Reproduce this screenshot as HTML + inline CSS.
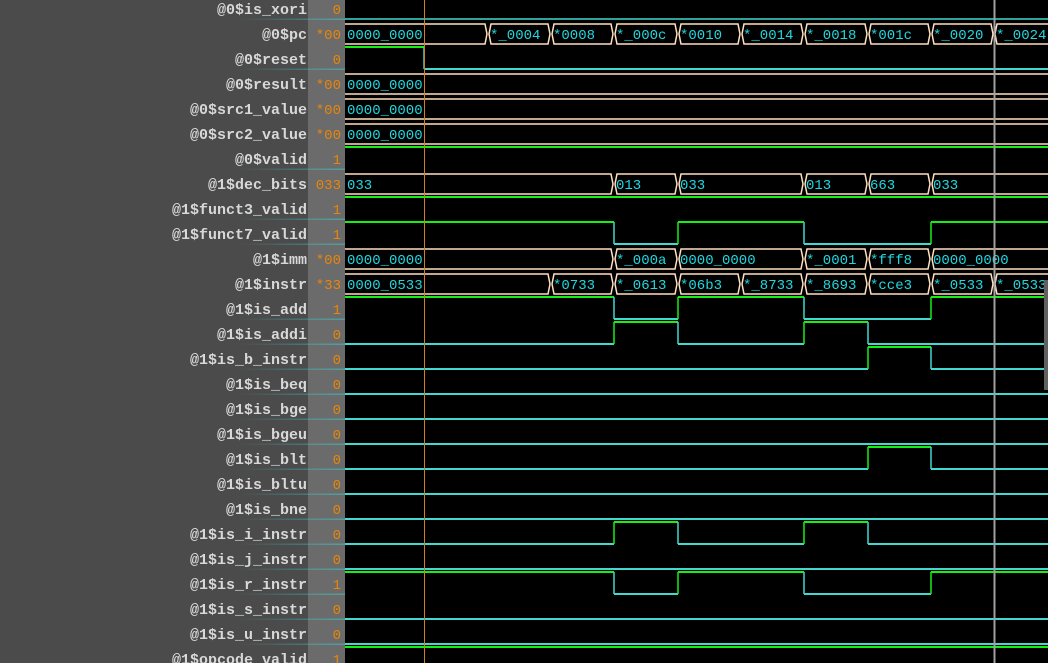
<!DOCTYPE html>
<html><head><meta charset="utf-8"><style>
body{margin:0;background:#000;width:1048px;height:663px;overflow:hidden}
svg{display:block}
.n{font-family:"Liberation Mono",monospace;font-size:15px;font-weight:bold;fill:#d8d8d8}
.v{font-family:"Liberation Mono",monospace;font-size:14px;fill:#e8860a}
.b{font-family:"Liberation Mono",monospace;font-size:14px;fill:#1fd8e0}
</style></head><body>
<svg id="s" width="1048" height="663" xmlns="http://www.w3.org/2000/svg">
<defs><linearGradient id="g" x1="0" x2="1"><stop offset="0" stop-color="#40c0c0" stop-opacity="0"/><stop offset="1" stop-color="#40c0c0" stop-opacity="0.6"/></linearGradient></defs>
<rect x="0" y="0" width="308" height="663" fill="#4b4b4b"/>
<rect x="308" y="0" width="37" height="663" fill="#6b6b6b"/>
<rect x="345" y="0" width="703" height="663" fill="#000"/>
</svg>
<script>
var S=document.getElementById('s'),h='';
var X0=345,X1=1048;
var rows=[
["@0$is_xori","0","L",[]],
["@0$pc","*00","B",[[488,551,614,678,741,804,868,931,994],["0000_0000","*_0004","*0008","*_000c","*0010","*_0014","*_0018","*001c","*_0020","*_0024"]]],
["@0$reset","0","W",[[345,1],[424,0]]],
["@0$result","*00","B",[[],["0000_0000"]]],
["@0$src1_value","*00","B",[[],["0000_0000"]]],
["@0$src2_value","*00","B",[[],["0000_0000"]]],
["@0$valid","1","W",[[345,1]]],
["@1$dec_bits","033","B",[[614,678,804,868,931],["033","013","033","013","663","033"]]],
["@1$funct3_valid","1","W",[[345,1]]],
["@1$funct7_valid","1","W",[[345,1],[614,0],[678,1],[804,0],[931,1]]],
["@1$imm","*00","B",[[614,678,804,868,931],["0000_0000","*_000a","0000_0000","*_0001","*fff8","0000_0000"]]],
["@1$instr","*33","B",[[551,614,678,741,804,868,931,994],["0000_0533","*0733","*_0613","*06b3","*_8733","*_8693","*cce3","*_0533","*_0533"]]],
["@1$is_add","1","W",[[345,1],[614,0],[678,1],[804,0],[931,1]]],
["@1$is_addi","0","W",[[345,0],[614,1],[678,0],[804,1],[868,0]]],
["@1$is_b_instr","0","W",[[345,0],[868,1],[931,0]]],
["@1$is_beq","0","W",[[345,0]]],
["@1$is_bge","0","W",[[345,0]]],
["@1$is_bgeu","0","W",[[345,0]]],
["@1$is_blt","0","W",[[345,0],[868,1],[931,0]]],
["@1$is_bltu","0","W",[[345,0]]],
["@1$is_bne","0","W",[[345,0]]],
["@1$is_i_instr","0","W",[[345,0],[614,1],[678,0],[804,1],[868,0]]],
["@1$is_j_instr","0","W",[[345,0]]],
["@1$is_r_instr","1","W",[[345,1],[614,0],[678,1],[804,0],[931,1]]],
["@1$is_s_instr","0","W",[[345,0]]],
["@1$is_u_instr","0","W",[[345,0]]],
["@1$opcode_valid","1","W",[[345,1]]]
];
var G="#14f014",T="#40d8d0",BC="#ffe0c0";
rows.forEach(function(r,i){
 var c=10+25*i,hi=c-13,lo=c+9;
 h+='<text class="n" x="307" y="'+(c+4)+'" text-anchor="end">'+r[0]+'</text>';
 h+='<text class="v" x="341" y="'+(c+4)+'" text-anchor="end">'+r[1]+'</text>';
 if(r[2]=="L"||r[2]=="W"){
  h+='<rect x="240" y="'+(lo-0.5)+'" width="105" height="1.5" fill="url(#g)"/>';
 }
 if(r[2]=="W"){
  var ev=r[3];
  for(var k=0;k<ev.length;k++){
   var xa=ev[k][0],xb=k+1<ev.length?ev[k+1][0]:X1,v=ev[k][1];
   var y=v?hi:lo;
   h+='<line x1="'+xa+'" y1="'+y+'" x2="'+xb+'" y2="'+y+'" stroke="'+(v?G:T)+'" stroke-width="2"/>';
   if(k>0){h+='<line x1="'+xa+'" y1="'+hi+'" x2="'+xa+'" y2="'+lo+'" stroke="'+(v?G:T)+'" stroke-width="1.5"/>';}
  }
 } else if(r[2]=="L"){
  h+='<line x1="345" y1="'+lo+'" x2="1048" y2="'+lo+'" stroke="'+T+'" stroke-width="1.5"/>';
 } else {
  var t=r[3][0],vals=r[3][1],ts=[X0].concat(t).concat([X1+10]);
  var top=c-11,bot=c+9,mid=c-1;
  for(var k=0;k<vals.length;k++){
   var a=ts[k],b=ts[k+1];
   var a2=k==0?a:a+3,b2=b-3;
   var p='M'+(k==0?a:a+3)+' '+top+' L'+b2+' '+top+' L'+(b-1)+' '+mid+' L'+b2+' '+bot+' L'+a2+' '+bot+(k==0?'':' L'+(a+1)+' '+mid+' Z');
   h+='<path d="'+p+'" fill="none" stroke="'+BC+'" stroke-width="1.5"/>';
   h+='<text class="b" x="'+(a+2)+'" y="'+(c+4)+'">'+vals[k]+'</text>';
  }
 }
});
h+='<line x1="424.5" y1="0" x2="424.5" y2="663" stroke="#d08020" stroke-width="1"/>';
h+='<line x1="994.5" y1="0" x2="994.5" y2="663" stroke="#a0a0a0" stroke-width="2"/>';
h+='<rect x="1044" y="280" width="4" height="110" fill="#606060"/>';
S.insertAdjacentHTML('beforeend',h);
</script>
</body></html>
